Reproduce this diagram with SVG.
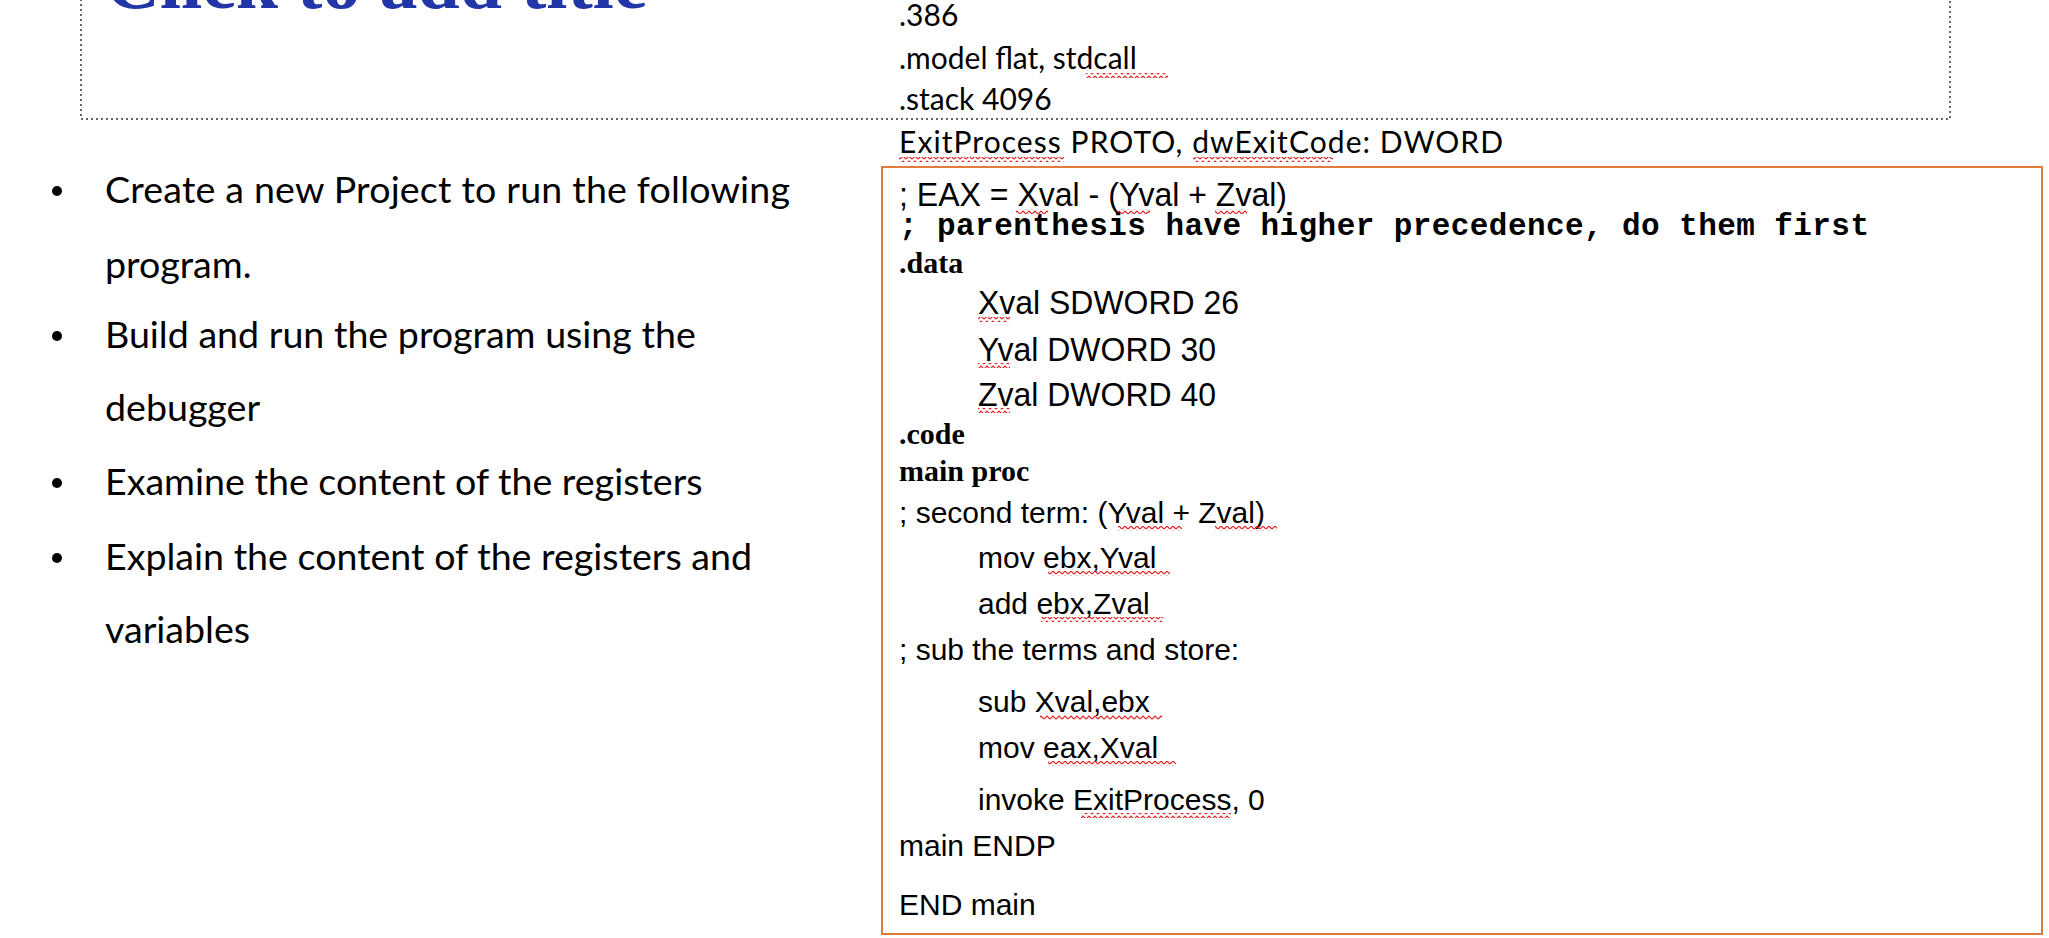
<svg xmlns="http://www.w3.org/2000/svg" width="2049" height="938" viewBox="0 0 2049 938">
<defs>
<pattern id="sq" width="6" height="5" patternUnits="userSpaceOnUse"><path d="M0 4 L3 1 L6 4" fill="none" stroke="#e02020" stroke-width="1.2"/></pattern>
</defs>
<style>
.t{font-family:Lato,"Open Sans",sans-serif;font-size:30px;fill:#000}
.b{font-family:Lato,"Open Sans",sans-serif;font-size:37.6px;fill:#000}
.a{font-family:"Liberation Sans",Arial,sans-serif;font-size:30px;fill:#000}
.n{font-family:"Liberation Sans",Arial,sans-serif;font-size:34px;fill:#000}
.c{font-family:"Liberation Mono",monospace;font-size:31px;font-weight:bold;fill:#000}
.s{font-family:"Liberation Serif",serif;font-size:30px;font-weight:bold;fill:#000}
.q{fill:url(#sq)}
</style>
<rect width="2049" height="938" fill="#fff"/>
<g id="title">
<rect x="81" y="-10" width="1869" height="129" fill="none" stroke="#333" stroke-width="1.5" stroke-dasharray="2,3"/>
<text x="105" y="8" font-family="Liberation Serif,serif" font-weight="bold" font-size="76" fill="#2236a8">Click to add title</text>
</g>
<g id="header">
<text class="t" x="899" y="26">.386</text>
<text class="t" x="899" y="69">.model flat, stdcall</text>
<text class="t" x="899" y="110">.stack 4096</text>
<text class="t" x="899" y="153" textLength="604">ExitProcess PROTO, dwExitCode: DWORD</text>
<rect class="q" x="1086" y="73" width="82" height="5"/>
<rect class="q" x="899" y="157" width="165" height="5"/>
<rect class="q" x="1193" y="157" width="140" height="5"/>
</g>
<g id="bullets">
<g fill="#000"><circle cx="57" cy="191" r="5"/><circle cx="57" cy="336" r="5"/><circle cx="57" cy="483" r="5"/><circle cx="57" cy="558" r="5"/></g>
<text class="b" x="105" y="203" textLength="685">Create a new Project to run the following</text>
<text class="b" x="105" y="278">program.</text>
<text class="b" x="105" y="348">Build and run the program using the</text>
<text class="b" x="105" y="421">debugger</text>
<text class="b" x="105" y="495">Examine the content of the registers</text>
<text class="b" x="105" y="570">Explain the content of the registers and</text>
<text class="b" x="105" y="643">variables</text>
</g>
<g id="code">
<rect x="882" y="167" width="1160" height="767" fill="none" stroke="#e07b39" stroke-width="2"/>
<text class="n" x="899" y="206" textLength="388" lengthAdjust="spacingAndGlyphs">; EAX = Xval - (Yval + Zval)</text>
<text class="c" x="899" y="235" textLength="970">; parenthesis have higher precedence, do them first</text>
<text class="s" x="899" y="273">.data</text>
<text class="n" x="978" y="314" textLength="261" lengthAdjust="spacingAndGlyphs">Xval SDWORD 26</text>
<text class="n" x="978" y="361" textLength="238" lengthAdjust="spacingAndGlyphs">Yval DWORD 30</text>
<text class="n" x="978" y="406" textLength="238" lengthAdjust="spacingAndGlyphs">Zval DWORD 40</text>
<text class="s" x="899" y="444">.code</text>
<text class="s" x="899" y="481">main proc</text>
<text class="a" x="899" y="523">; second term: (Yval + Zval)</text>
<text class="a" x="978" y="568">mov ebx,Yval</text>
<text class="a" x="978" y="614">add ebx,Zval</text>
<text class="a" x="899" y="660">; sub the terms and store:</text>
<text class="a" x="978" y="712">sub Xval,ebx</text>
<text class="a" x="978" y="758">mov eax,Xval</text>
<text class="a" x="978" y="810">invoke ExitProcess, 0</text>
<text class="a" x="899" y="856">main ENDP</text>
<text class="a" x="899" y="915">END main</text>
<g>
<rect class="q" x="1016" y="209" width="32" height="5"/>
<rect class="q" x="1118" y="209" width="32" height="5"/>
<rect class="q" x="1215" y="209" width="32" height="5"/>
<rect class="q" x="978" y="317" width="32" height="5"/>
<rect class="q" x="978" y="363" width="32" height="5"/>
<rect class="q" x="978" y="408" width="32" height="5"/>
<rect class="q" x="1118" y="526" width="64" height="5"/>
<rect class="q" x="1215" y="526" width="62" height="5"/>
<rect class="q" x="1048" y="571" width="122" height="5"/>
<rect class="q" x="1041" y="617" width="122" height="5"/>
<rect class="q" x="1040" y="715" width="122" height="5"/>
<rect class="q" x="1048" y="761" width="128" height="5"/>
<rect class="q" x="1081" y="813" width="150" height="5"/>
</g>
</g>
</svg>
